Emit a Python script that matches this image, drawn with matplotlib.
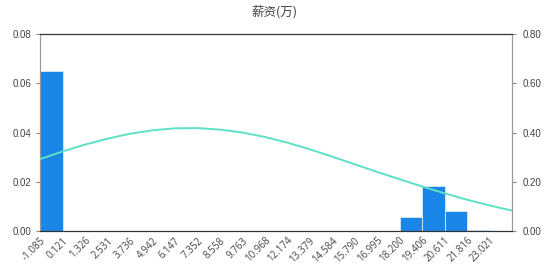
import matplotlib.pyplot as plt
import numpy as np

plt.rcParams['font.family'] = ['Noto Sans CJK SC', 'DejaVu Sans']

# 分箱边界 (x 轴刻度)
bin_edges = [-1.085, 0.121, 1.326, 2.531, 3.736, 4.942, 6.147, 7.352, 8.558, 9.763,
             10.968, 12.174, 13.379, 14.584, 15.790, 16.995, 18.200, 19.406, 20.611,
             21.816, 23.021, 24.226]
tick_labels = ['-1.085', '0.121', '1.326', '2.531', '3.736', '4.942', '6.147', '7.352',
               '8.558', '9.763', '10.968', '12.174', '13.379', '14.584', '15.790',
               '16.995', '18.200', '19.406', '20.611', '21.816', '23.021']
# 每个分箱的频率密度
bar_heights = [0.065, 0, 0, 0, 0, 0, 0, 0, 0, 0, 0, 0, 0, 0, 0, 0,
               0.0058, 0.0184, 0.0082, 0.0005, 0]
# 正态曲线 (右轴), 在每个分箱边界处读取
curve_values = [0.292, 0.323, 0.351, 0.375, 0.395, 0.409, 0.417, 0.418, 0.412, 0.400,
                0.382, 0.359, 0.332, 0.302, 0.271, 0.240, 0.210, 0.181, 0.153, 0.127,
                0.104, 0.083]

fig = plt.figure(figsize=(5.49, 2.68), dpi=100)
ax = fig.add_axes([0.0729, 0.138, 0.8597, 0.735])

widths = np.diff(bin_edges)
ax.bar(bin_edges[:-1], bar_heights, width=widths, align='edge',
       color='#1a87e8', edgecolor='#cfe6fa', linewidth=0.7, zorder=2)

ax.set_xlim(bin_edges[0], bin_edges[-1])
ax.set_ylim(0, 0.08)
ax.set_yticks([0, 0.02, 0.04, 0.06, 0.08])
ax.set_yticklabels(['0.00', '0.02', '0.04', '0.06', '0.08'], family=['Liberation Sans'])
ax.set_xticks(bin_edges[:len(tick_labels)])
ax.set_xticklabels(tick_labels, rotation=45, ha='right', va='top', rotation_mode='anchor',
                   family=['Open Sans', 'DejaVu Sans'])
ax.tick_params(axis='x', length=0, labelsize=7, colors='#444444', pad=3)
ax.tick_params(axis='y', length=3, labelsize=7, colors='#444444', pad=3, color='#888888')

ax2 = ax.twinx()
ax2.plot(bin_edges, curve_values, color='#5ee0c8', linewidth=1.4, zorder=3)
ax2.set_ylim(0, 0.8)
ax2.set_yticks([0, 0.2, 0.4, 0.6, 0.8])
ax2.set_yticklabels(['0.00', '0.20', '0.40', '0.60', '0.80'], family=['Liberation Sans'])
ax2.tick_params(axis='y', length=3, labelsize=7, colors='#444444', pad=5, color='#888888')

for a in (ax, ax2):
    a.spines['top'].set_color('#333333')
    a.spines['top'].set_linewidth(0.8)
    a.spines['bottom'].set_color('#333333')
    a.spines['bottom'].set_linewidth(0.8)
    a.spines['left'].set_color('#999999')
    a.spines['right'].set_color('#999999')

fig.text(0.5, 0.955, '薪资(万)', ha='center', va='center', fontsize=9, color='#444444')

plt.savefig('out.png', dpi=100)
